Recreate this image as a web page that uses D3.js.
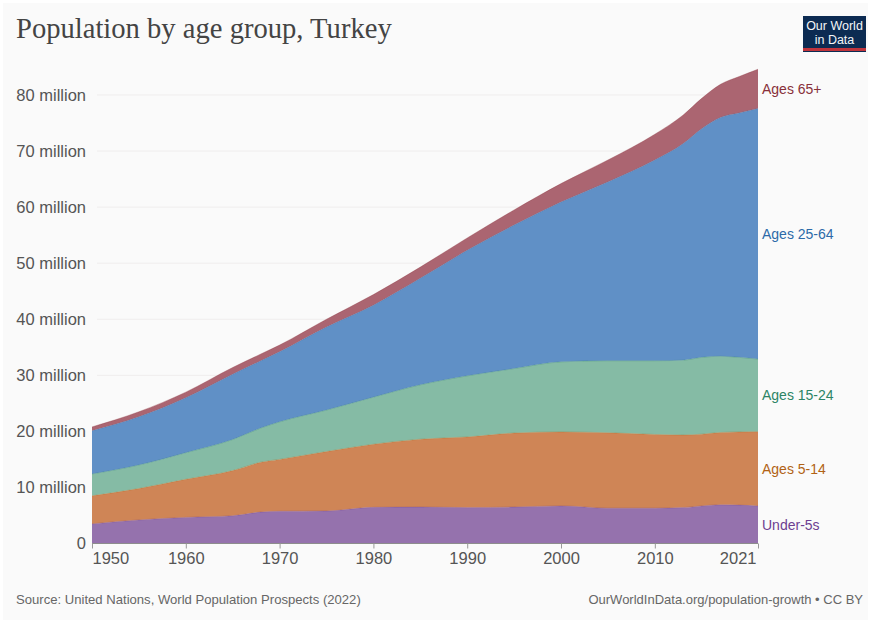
<!DOCTYPE html>
<html>
<head>
<meta charset="utf-8">
<script src="https://cdn.jsdelivr.net/npm/d3@7"></script>
<style>
  html, body { margin: 0; padding: 0; background: #fff; }
  svg { display: block; }
  text { font-family: "Liberation Sans", Arial, sans-serif; }
</style>
</head>
<body>
<div id="chart"></div>
<script>
var years = [1950, 1955, 1960, 1965, 1968, 1970, 1975, 1980, 1985, 1990, 1995, 2000, 2005, 2010, 2013, 2015, 2017, 2019, 2021];

// millions of people
var under5 = [3.5, 4.2, 4.65, 4.95, 5.6, 5.75, 5.8, 6.45, 6.5, 6.4, 6.5, 6.7, 6.3, 6.3, 6.4, 6.7, 6.9, 6.85, 6.7];
var ages5to14 = [5.0, 5.6, 6.8, 8.05, 8.9, 9.25, 10.6, 11.25, 12.1, 12.6, 13.2, 13.2, 13.45, 13.15, 12.95, 12.8, 12.9, 13.05, 13.25];
var ages15to24 = [3.9, 4.2, 4.75, 5.55, 6.1, 6.7, 7.4, 8.4, 9.7, 10.9, 11.5, 12.5, 12.85, 13.15, 13.35, 13.7, 13.6, 13.3, 12.95];
var ages25to64 = [7.7, 8.6, 9.8, 11.65, 12.0, 12.5, 14.8, 16.4, 19.0, 22.4, 25.6, 28.5, 31.9, 35.8, 38.6, 40.8, 42.6, 43.6, 44.7];
var ages65plus = [0.7, 0.9, 1.0, 1.2, 1.2, 1.2, 1.4, 1.9, 2.0, 2.2, 2.7, 3.3, 3.9, 4.6, 5.1, 5.4, 5.9, 6.5, 7.0];

var seriesNames = ['Under-5s', 'Ages 5-14', 'Ages 15-24', 'Ages 25-64', 'Ages 65+'];
var seriesValues = [under5, ages5to14, ages15to24, ages25to64, ages65plus];
var fillColors = ['#9572ad', '#cf8556', '#85bba5', '#6090c6', '#ab6571'];
var labelColors = ['#6d3e91', '#b16214', '#2c8465', '#2c6aa8', '#883039'];

var yTicks = [0, 10, 20, 30, 40, 50, 60, 70, 80];
var xTicks = [1950, 1960, 1970, 1980, 1990, 2000, 2010, 2021];

var width = 880, height = 622;

var x = d3.scaleLinear().domain([1950, 2021]).range([92, 758]);
var y = d3.scaleLinear().domain([0, 80]).range([543.5, 95]);

var svg = d3.select('#chart').append('svg')
    .attr('width', width)
    .attr('height', height);

// page card
svg.append('rect')
    .attr('x', 3).attr('y', 3)
    .attr('width', 865).attr('height', 617)
    .attr('fill', '#fafafa');

svg.append('text')
    .attr('x', 16).attr('y', 38)
    .attr('fill', '#444')
    .style('font-family', '"Liberation Serif", Georgia, serif')
    .style('font-size', '28.6px')
    .text('Population by age group, Turkey');

// logo
var logo = svg.append('g');
logo.append('rect').attr('x', 803).attr('y', 16).attr('width', 63).attr('height', 36).attr('fill', '#0c2b52');
logo.append('rect').attr('x', 803).attr('y', 48).attr('width', 63).attr('height', 3).attr('fill', '#c0343c');
logo.selectAll('text')
    .data(['Our World', 'in Data'])
    .enter()
    .append('text')
    .attr('x', 834.5)
    .attr('y', function(d, i) { return 30 + i * 14; })
    .attr('text-anchor', 'middle')
    .attr('fill', '#f4f6f8')
    .style('font-size', '12.5px')
    .text(function(d) { return d; });

// grid
svg.append('g')
    .selectAll('line')
    .data(yTicks.slice(1))
    .enter()
    .append('line')
    .attr('x1', 97).attr('x2', 758)
    .attr('y1', function(d) { return y(d); })
    .attr('y2', function(d) { return y(d); })
    .attr('stroke', '#efeded')
    .attr('stroke-width', 1);

// stacked areas
var rows = years.map(function(year, i) {
    var row = { year: year };
    seriesNames.forEach(function(name, s) { row[name] = seriesValues[s][i]; });
    return row;
});

var stacked = d3.stack().keys(seriesNames)(rows);

var area = d3.area()
    .x(function(d) { return x(d.data.year); })
    .y0(function(d) { return y(d[0]); })
    .y1(function(d) { return y(d[1]); })
    .curve(d3.curveMonotoneX);

var topLine = d3.line()
    .x(function(d) { return x(d.data.year); })
    .y(function(d) { return y(d[1]); })
    .curve(d3.curveMonotoneX);

svg.append('g').selectAll('path')
    .data(stacked)
    .enter()
    .append('path')
    .attr('d', area)
    .attr('fill', function(d, i) { return fillColors[i]; });

svg.append('g').selectAll('path')
    .data(stacked)
    .enter()
    .append('path')
    .attr('d', topLine)
    .attr('fill', 'none')
    .attr('stroke', function(d, i) { return labelColors[i]; })
    .attr('stroke-opacity', 0.45)
    .attr('stroke-width', 0.7);

// axes
var yAxis = svg.append('g')
    .attr('transform', 'translate(86,0)')
    .call(d3.axisLeft(y)
        .tickValues(yTicks)
        .tickSize(0)
        .tickPadding(0)
        .tickFormat(function(d) { return d === 0 ? '0' : d + ' million'; }));
yAxis.select('.domain').remove();
yAxis.selectAll('text')
    .attr('fill', '#555')
    .style('font-size', '16.5px')
    .style('font-family', '"Liberation Sans", Arial, sans-serif');

var xAxis = svg.append('g')
    .attr('transform', 'translate(0,543.5)')
    .call(d3.axisBottom(x)
        .tickValues(xTicks)
        .tickSize(5)
        .tickPadding(4)
        .tickFormat(d3.format('d')));
xAxis.select('.domain').attr('stroke', '#8d8d8d').attr('d', 'M92,0H758');
xAxis.selectAll('.tick line').attr('stroke', '#999');
xAxis.selectAll('text')
    .attr('fill', '#555')
    .style('font-size', '16.5px')
    .style('font-family', '"Liberation Sans", Arial, sans-serif')
    .attr('dx', function(d) { return d === 2021 ? -2 : 0; })
    .attr('text-anchor', function(d) {
        if (d === 1950) return 'start';
        if (d === 2021) return 'end';
        return 'middle';
    });

// series labels at the right end
svg.append('g').selectAll('text')
    .data(stacked)
    .enter()
    .append('text')
    .attr('x', 762)
    .attr('y', function(d) {
        var last = d[d.length - 1];
        return y((last[0] + last[1]) / 2);
    })
    .attr('dy', '0.35em')
    .attr('fill', function(d, i) { return labelColors[i]; })
    .style('font-size', '14px')
    .text(function(d) { return d.key; });

// footer
svg.append('text')
    .attr('x', 16).attr('y', 604)
    .attr('fill', '#666')
    .style('font-size', '13.1px')
    .text('Source: United Nations, World Population Prospects (2022)');

svg.append('text')
    .attr('x', 863).attr('y', 604)
    .attr('text-anchor', 'end')
    .attr('fill', '#666')
    .style('font-size', '13px')
    .text('OurWorldInData.org/population-growth • CC BY');
</script>
</body>
</html>
